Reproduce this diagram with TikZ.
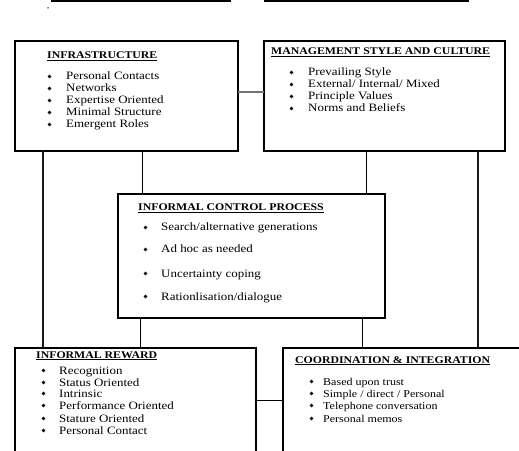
\documentclass[tikz,border=0pt]{standalone}
\usepackage{fontspec}
\setmainfont{Liberation Serif}[FakeStretch=1.15]
\begin{document}
\begin{tikzpicture}[x=1bp,y=-1bp,
  box/.style={draw=black,line width=1.2bp,anchor=north west,inner sep=0pt,outer sep=0pt},
  ttl/.style={anchor=base west,inner sep=0pt,font=\fontsize{10.3}{12}\selectfont\bfseries},
  itm/.style={anchor=base west,inner sep=0pt,font=\fontsize{11.3}{13}\selectfont},
  sitm/.style={anchor=base west,inner sep=0pt,font=\fontsize{10.5}{12}\selectfont},
  bul/.style={circle,fill=black,inner sep=0pt,minimum size=3.8bp},
  conn/.style={draw=black,line width=1bp},
  thick conn/.style={draw=black!90,line width=2.2bp}]
\useasboundingbox (0,0) rectangle (519,451);
\clip (0,0) rectangle (519,451);
\fill[white] (0,0) rectangle (519,451);
% top rules
\coordinate (t1a) at (51,1); \coordinate (t1b) at (231,1);
\coordinate (t2a) at (264,1); \coordinate (t2b) at (469,1);
\draw[line width=1.2bp] (t1a) -- (t1b);
\draw[line width=1.2bp] (t2a) -- (t2b);
\node[circle,fill=black,inner sep=0pt,minimum size=1.5bp] (dot) at (48,8) {};
% boxes
\node[box,minimum width=223bp,minimum height=110bp] (infra) at (15,41) {};
\node[box,minimum width=241bp,minimum height=110bp] (mgmt) at (264,41) {};
\node[box,minimum width=267bp,minimum height=124bp,fill=white] (ctrl) at (118,194) {};
\node[box,minimum width=241bp,minimum height=120bp] (reward) at (15,348) {};
\node[box,minimum width=250bp,minimum height=120bp] (coord) at (283,348) {};
% connectors
\draw[conn,draw=black!55,line width=2bp] (infra.east |- 0,92) -- (mgmt.west |- 0,92);
\draw[thick conn] (infra.south -| 43,0) -- (reward.north -| 43,0);
\draw[conn] (infra.south -| 142,0) -- (ctrl.north -| 142,0);
\draw[conn] (ctrl.south -| 140,0) -- (reward.north -| 140,0);
\draw[conn] (mgmt.south -| 366,0) -- (ctrl.north -| 366,0);
\draw[conn] (ctrl.south -| 362,0) -- (coord.north -| 362,0);
\draw[thick conn] (mgmt.south -| 478,0) -- (coord.north -| 478,0);
\draw[conn] (reward.east |- 0,400.5) -- (coord.west |- 0,400.5);
% infrastructure
\node[ttl] (infraT) at (47,59) {\underline{INFRASTRUCTURE}};
\foreach \y/\t [count=\i] in {80/{Personal Contacts},92/{Networks},104/{Expertise Oriented},116/{Minimal Structure},128/{Emergent Roles}}{
  \node[bul] (ib\i) at (49.5,\y-3.5) {};
  \node[itm] (it\i) at (66,\y) {\t};
}
% management
\node[ttl] (mgmtT) at (271,55) {\underline{MANAGEMENT STYLE AND CULTURE}};
\foreach \y/\t [count=\i] in {76/{Prevailing Style},88/{External/ Internal/ Mixed},100/{Principle Values},112/{Norms and Beliefs}}{
  \node[bul] (mb\i) at (291.5,\y-3.5) {};
  \node[itm] (mt\i) at (308,\y) {\t};
}
% control
\node[ttl] (ctrlT) at (138,211) {\underline{INFORMAL CONTROL PROCESS}};
\foreach \y/\t [count=\i] in {231/{Search/alternative generations},253/{Ad hoc as needed},277/{Uncertainty coping},300/{Rationlisation/dialogue}}{
  \node[bul] (cb\i) at (145.5,\y-3.5) {};
  \node[itm] (ct\i) at (161,\y) {\t};
}
% reward
\node[ttl] (rewT) at (36,358) {\underline{INFORMAL REWARD}};
\foreach \y/\t [count=\i] in {374/{Recognition},386/{Status Oriented},397/{Intrinsic},409/{Performance Oriented},422/{Stature Oriented},434/{Personal Contact}}{
  \node[bul] (rb\i) at (43.5,\y-3.5) {};
  \node[itm] (rt\i) at (59,\y) {\t};
}
% coordination
\node[ttl] (coordT) at (295,363) {\underline{COORDINATION \& INTEGRATION}};
\foreach \y/\t [count=\i] in {385/{Based upon trust},397/{Simple / direct / Personal},409/{Telephone conversation},422/{Personal memos}}{
  \node[bul] (kb\i) at (311.5,\y-3.5) {};
  \node[sitm] (kt\i) at (323,\y) {\t};
}
\end{tikzpicture}
\end{document}
